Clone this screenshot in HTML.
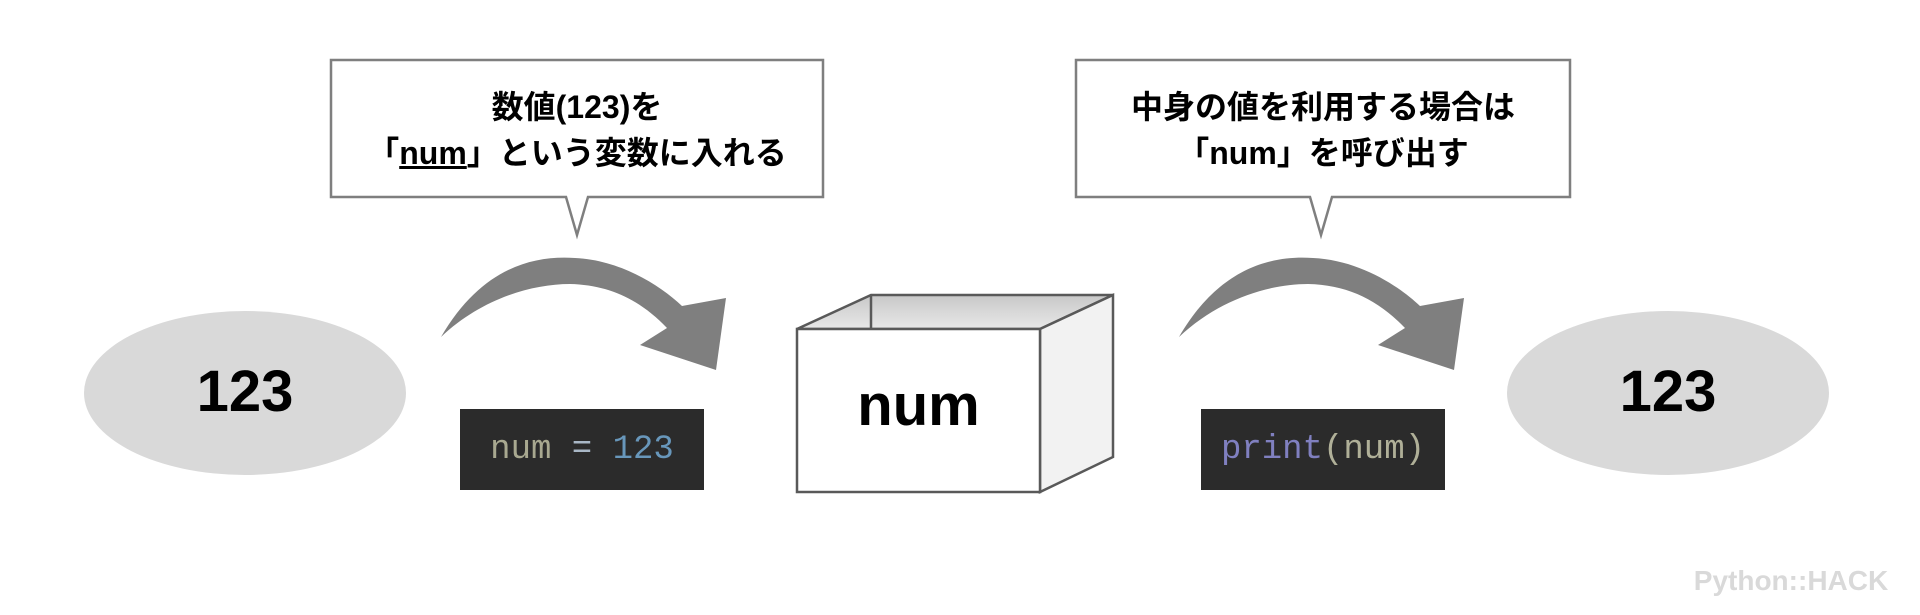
<!DOCTYPE html>
<html><head><meta charset="utf-8"><style>
html,body{margin:0;padding:0;background:#fff;}
body{width:1920px;height:615px;overflow:hidden;position:relative;font-family:"Liberation Sans","Noto Sans CJK JP",sans-serif;}
.t{position:absolute;font-weight:bold;color:#000;text-align:center;white-space:nowrap;}
</style></head><body>
<svg width="1920" height="615" style="position:absolute;left:0;top:0">
<defs><linearGradient id="g" x1="0" y1="0" x2="0" y2="1"><stop offset="0" stop-color="#c8c8c8"/><stop offset="1" stop-color="#e8e8e8"/></linearGradient></defs>
<path d="M331,60 H823 V197 H588 L577,235 L566,197 H331 Z" fill="#fff" stroke="#7f7f7f" stroke-width="2.5"/>
<path d="M1076,60 H1570 V197 H1332 L1321,235 L1310,197 H1076 Z" fill="#fff" stroke="#7f7f7f" stroke-width="2.5"/>
<ellipse cx="245" cy="393" rx="161" ry="82" fill="#d9d9d9"/>
<ellipse cx="1668" cy="393" rx="161" ry="82" fill="#d9d9d9"/>
<path d="M441,337 C480,270 530,255 575,258 C620,260 660,285 682,306 L726,298 L716,370 L640,345 L667,328 C640,300 610,285 570,284 C530,284 480,300 441,337 Z" fill="#7f7f7f"/>
<path transform="translate(738,0)" d="M441,337 C480,270 530,255 575,258 C620,260 660,285 682,306 L726,298 L716,370 L640,345 L667,328 C640,300 610,285 570,284 C530,284 480,300 441,337 Z" fill="#7f7f7f"/>
<rect x="460" y="409" width="244" height="81" fill="#2b2b2b"/>
<rect x="1201" y="409" width="244" height="81" fill="#2b2b2b"/>
<polygon points="797,329 871,295 1113,295 1040,329" fill="url(#g)" stroke="#595959" stroke-width="2.5"/>
<line x1="871" y1="295" x2="871" y2="329" stroke="#595959" stroke-width="2.5"/>
<polygon points="1040,329 1113,295 1113,457 1040,492" fill="#f2f2f2" stroke="#595959" stroke-width="2.5"/>
<rect x="797" y="329" width="243" height="163" fill="#fff" stroke="#595959" stroke-width="2.5"/>
</svg>
<div class="t" style="left:331px;width:492px;top:84px;font-size:32px;line-height:46px;">数値(123)を<br>「<u>num</u>」という変数に入れる</div>
<div class="t" style="left:1076px;width:494px;top:84px;font-size:32px;line-height:46px;">中身の値を利用する場合は<br>「num」を呼び出す</div>
<div class="t" style="left:84px;width:322px;top:360px;font-size:58px;line-height:64px;">123</div>
<div class="t" style="left:1507px;width:322px;top:360px;font-size:58px;line-height:64px;">123</div>
<div class="t" style="left:797px;width:243px;top:373px;font-size:58px;line-height:66px;">num</div>
<div class="t" style="left:460px;width:244px;top:430px;font-size:34px;line-height:40px;font-weight:normal;font-family:'Liberation Mono',monospace;"><span style="color:#a8a890">num</span> <span style="color:#a9b7c6">=</span> <span style="color:#6897bb">123</span></div>
<div class="t" style="left:1201px;width:244px;top:430px;font-size:34px;line-height:40px;font-weight:normal;font-family:'Liberation Mono',monospace;"><span style="color:#8080c0">print</span><span style="color:#b0b098">(num)</span></div>
<div class="t" style="left:1680px;width:222px;top:564px;font-size:28px;line-height:34px;color:#d9d9d9;">Python::HACK</div>
</body></html>
